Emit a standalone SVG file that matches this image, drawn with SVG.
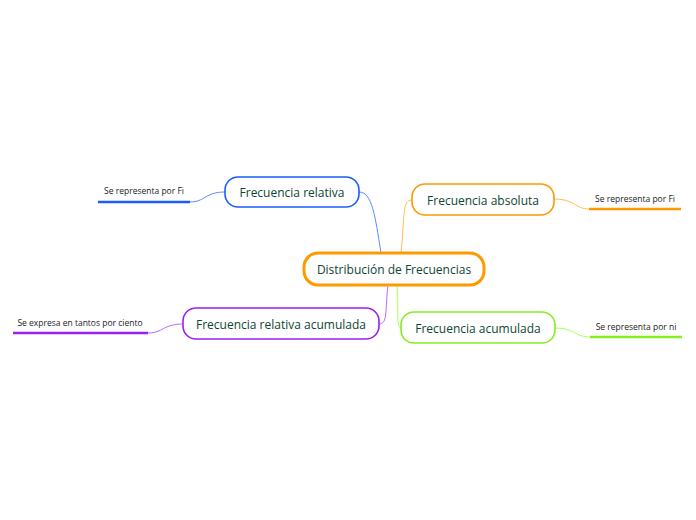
<svg xmlns="http://www.w3.org/2000/svg" width="696" height="520" viewBox="0 0 696 520">
<style>
.n{fill:#fff;stroke-width:1.6}
.t{font-family:"Open Sans","Noto Sans",sans-serif;font-size:12px;fill:#0d4633;text-anchor:middle;dominant-baseline:central}
.s{font-family:"Open Sans","Noto Sans",sans-serif;font-size:8.5px;fill:#222;text-anchor:middle}
.c{fill:none;stroke-width:1}
.u{stroke-width:2.5;fill:none}
</style>
<rect width="696" height="520" fill="#fff"/>
<g id="connectors">
<path class="c" stroke="#5b8cff" d="M381,253 C375,215 372,192 359,192"/>
<path class="c" stroke="#ffbb55" d="M401,253 C405,215 402,200 412,200"/>
<path class="c" stroke="#bb66ff" d="M388,285 C385,310 388,324 379,324"/>
<path class="c" stroke="#aaff55" d="M397,285 C399,310 396,328 401,328"/>
<path class="c" stroke="#5b8cff" d="M225,192 C205,192 205,202 190,202"/>
<path class="c" stroke="#ffbb55" d="M554,199 C575,199 575,209 589,209"/>
<path class="c" stroke="#aaff55" d="M555,328 C575,328 575,337 590,337"/>
<path class="c" stroke="#bb66ff" d="M183,324 C163,324 163,333 148,333"/>
</g>
<g id="central">
<rect x="304" y="253" width="180" height="32" rx="14" fill="#fff" stroke="#ff9900" stroke-width="3"/>
<text class="t" x="394" y="269">Distribución de Frecuencias</text>
</g>
<g id="relativa">
<rect class="n" x="225" y="177" width="134" height="30" rx="13" stroke="#1a5cff"/>
<text class="t" x="292" y="192">Frecuencia relativa</text>
</g>
<g id="absoluta">
<rect class="n" x="412" y="184" width="142" height="31" rx="13" stroke="#ff9900"/>
<text class="t" x="483" y="200">Frecuencia absoluta</text>
</g>
<g id="acumulada">
<rect class="n" x="401" y="312" width="154" height="31" rx="13" stroke="#88ee22"/>
<text class="t" x="478" y="328">Frecuencia acumulada</text>
</g>
<g id="relativa-acumulada">
<rect class="n" x="183" y="308" width="196" height="31" rx="13" stroke="#9922ee"/>
<text class="t" x="281" y="324">Frecuencia relativa acumulada</text>
</g>
<g id="leaf-relativa">
<text class="s" x="144" y="194">Se representa por Fi</text>
<path class="u" stroke="#1a5cff" d="M98,202 H190"/>
</g>
<g id="leaf-absoluta">
<text class="s" x="635" y="202">Se representa por Fi</text>
<path class="u" stroke="#ff9900" d="M589,209 H681"/>
</g>
<g id="leaf-acumulada">
<text class="s" x="636" y="330">Se representa por ni</text>
<path class="u" stroke="#88ee22" d="M590,337 H682"/>
</g>
<g id="leaf-relativa-acumulada">
<text class="s" x="80" y="326">Se expresa en tantos por ciento</text>
<path class="u" stroke="#9922ee" d="M13,333 H148"/>
</g>
</svg>
